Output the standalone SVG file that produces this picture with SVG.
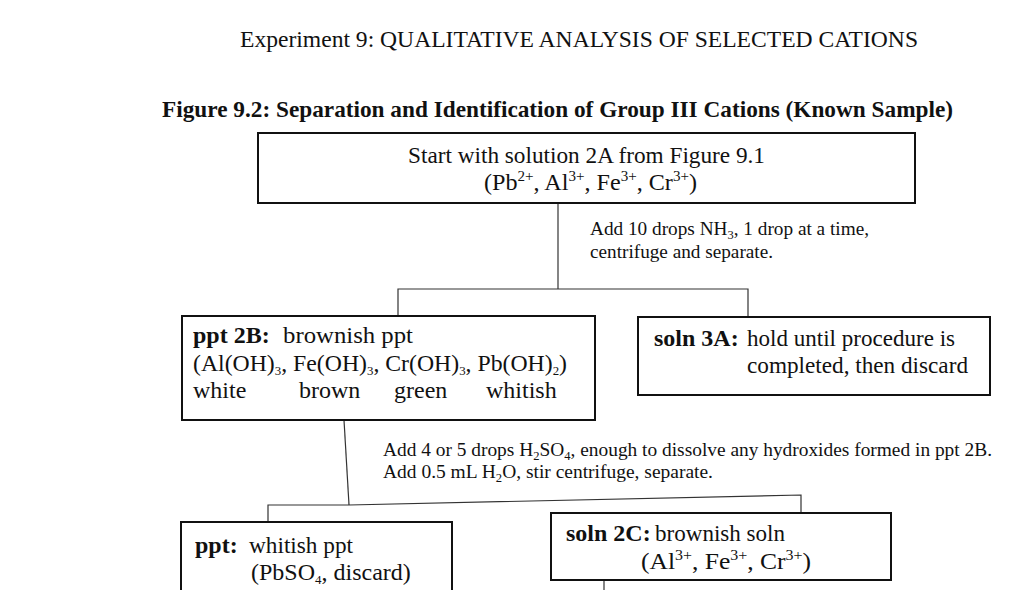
<svg xmlns="http://www.w3.org/2000/svg" width="1024" height="590" viewBox="0 0 1024 590">
<style>
text{font-family:"Liberation Serif","Times New Roman",serif;fill:#111}
.t{font-size:24px}
.b{font-size:24px}
.s{font-size:18.5px}
.bold{font-weight:bold}
.box{fill:#fff;stroke:#111;stroke-width:2}
.ln{fill:none;stroke:#333;stroke-width:1.2}
.sub{font-size:13px}
.sup{font-size:15px}
.ssub{font-size:12px}
</style>
<rect width="1024" height="590" fill="#fff"/>
<text class="t" x="240" y="47" textLength="678" lengthAdjust="spacingAndGlyphs">Experiment 9: QUALITATIVE ANALYSIS OF SELECTED CATIONS</text>
<text class="t bold" x="162" y="117" textLength="791" lengthAdjust="spacingAndGlyphs">Figure 9.2: Separation and Identification of Group III Cations (Known Sample)</text>

<g id="connectors">
<polyline class="ln" points="558,203 558,289"/>
<polyline class="ln" points="398,316 398,289 748,289 748,317"/>
<polyline class="ln" points="344,420 349,505"/>
<polyline class="ln" points="268,522 268,505 349,505 801,495 801,513"/>
<polyline class="ln" points="604,580 604,590"/>
</g>

<g id="step1">
<text class="s" x="590" y="235" textLength="279" lengthAdjust="spacingAndGlyphs">Add 10 drops NH<tspan class="ssub" dy="4">3</tspan><tspan dy="-4">, 1 drop at a time,</tspan></text>
<text class="s" x="590" y="258" textLength="183" lengthAdjust="spacingAndGlyphs">centrifuge and separate.</text>
</g>

<g id="step2">
<text class="s" x="383" y="456" textLength="609" lengthAdjust="spacingAndGlyphs">Add 4 or 5 drops H<tspan class="ssub" dy="4">2</tspan><tspan dy="-4">SO</tspan><tspan class="ssub" dy="4">4</tspan><tspan dy="-4">, enough to dissolve any hydroxides formed in ppt 2B.</tspan></text>
<text class="s" x="383" y="478" textLength="330" lengthAdjust="spacingAndGlyphs">Add 0.5 mL H<tspan class="ssub" dy="4">2</tspan><tspan dy="-4">O, stir centrifuge, separate.</tspan></text>
</g>

<g id="start">
<rect class="box" x="258" y="133" width="657" height="70"/>
<text class="b" x="408" y="163" textLength="357" lengthAdjust="spacingAndGlyphs">Start with solution 2A from Figure 9.1</text>
<text class="b" x="484" y="190" textLength="213" lengthAdjust="spacingAndGlyphs">(Pb<tspan class="sup" dy="-9">2+</tspan><tspan dy="9">, Al</tspan><tspan class="sup" dy="-9">3+</tspan><tspan dy="9">, Fe</tspan><tspan class="sup" dy="-9">3+</tspan><tspan dy="9">, Cr</tspan><tspan class="sup" dy="-9">3+</tspan><tspan dy="9">)</tspan></text>
</g>

<g id="ppt2B">
<rect class="box" x="182" y="316" width="413" height="104"/>
<text class="b bold" x="193" y="343">ppt 2B:</text>
<text class="b" x="283" y="343" textLength="130" lengthAdjust="spacingAndGlyphs">brownish ppt</text>
<text class="b" x="193" y="371" textLength="374" lengthAdjust="spacingAndGlyphs">(Al(OH)<tspan class="sub" dy="4">3</tspan><tspan dy="-4">, Fe(OH)</tspan><tspan class="sub" dy="4">3</tspan><tspan dy="-4">, Cr(OH)</tspan><tspan class="sub" dy="4">3</tspan><tspan dy="-4">, Pb(OH)</tspan><tspan class="sub" dy="4">2</tspan><tspan dy="-4">)</tspan></text>
<text class="b" x="193" y="398">white</text>
<text class="b" x="299" y="398">brown</text>
<text class="b" x="394" y="398">green</text>
<text class="b" x="486" y="398">whitish</text>
</g>

<g id="soln3A">
<rect class="box" x="638" y="317" width="352" height="78"/>
<text class="b bold" x="654" y="346">soln 3A:</text>
<text class="b" x="747" y="346" textLength="208" lengthAdjust="spacingAndGlyphs">hold until procedure is</text>
<text class="b" x="747" y="373" textLength="221" lengthAdjust="spacingAndGlyphs">completed, then discard</text>
</g>

<g id="pptPbSO4">
<rect class="box" x="181" y="522" width="271" height="80"/>
<text class="b bold" x="195" y="553">ppt:</text>
<text class="b" x="249" y="553" textLength="104" lengthAdjust="spacingAndGlyphs">whitish ppt</text>
<text class="b" x="251" y="580">(PbSO<tspan class="sub" dy="4">4</tspan><tspan dy="-4">, discard)</tspan></text>
</g>

<g id="soln2C">
<rect class="box" x="551" y="513" width="340" height="67"/>
<text class="b bold" x="566" y="541">soln 2C:</text>
<text class="b" x="655" y="541" textLength="130" lengthAdjust="spacingAndGlyphs">brownish soln</text>
<text class="b" x="641" y="569" textLength="170" lengthAdjust="spacingAndGlyphs">(Al<tspan class="sup" dy="-9">3+</tspan><tspan dy="9">, Fe</tspan><tspan class="sup" dy="-9">3+</tspan><tspan dy="9">, Cr</tspan><tspan class="sup" dy="-9">3+</tspan><tspan dy="9">)</tspan></text>
</g>
</svg>
